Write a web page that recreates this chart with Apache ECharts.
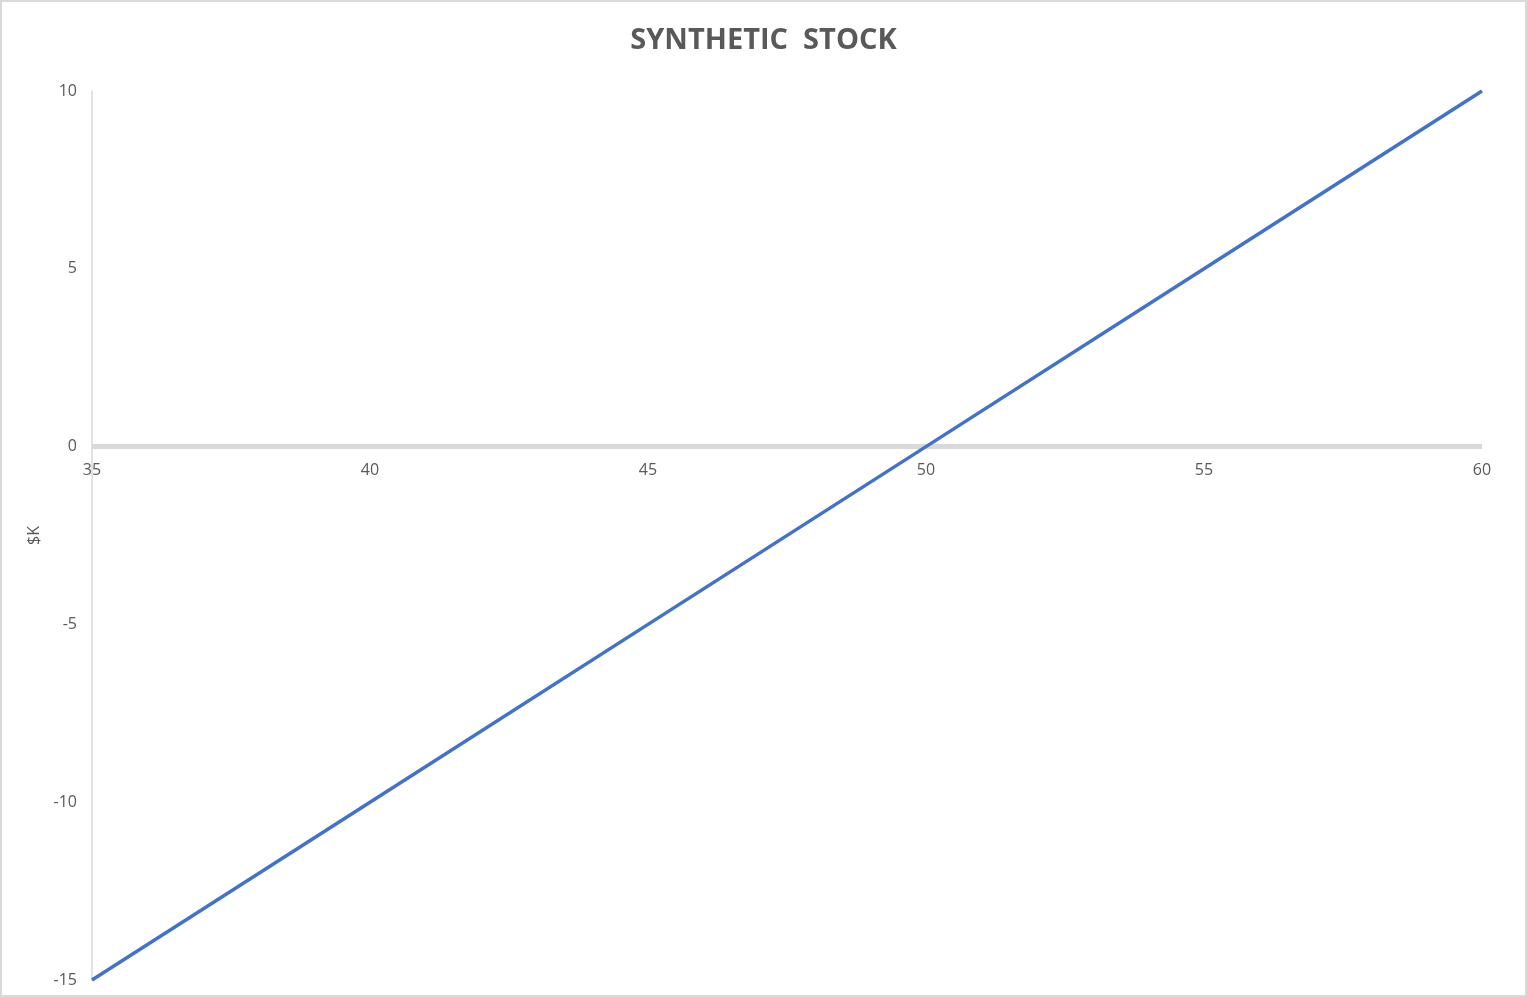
<!DOCTYPE html>
<html>
<head>
<meta charset="utf-8">
<title>Synthetic Stock</title>
<script src="https://cdn.jsdelivr.net/npm/echarts@6/dist/echarts.min.js"></script>
<style>
  html, body { margin: 0; padding: 0; background: #fff; }
  #main { width: 1527px; height: 997px; outline: 2px solid #d9d9d9; outline-offset: -2px; }
</style>
</head>
<body>
<div id="main"></div>
<script>
// 股价（横轴）与盈亏（$K）
const stockPrice = [35, 40, 45, 50, 55, 60];
const profit = [-15, -10, -5, 0, 5, 10];
const xTicks = { min: 35, max: 60, step: 5 };
const yTicks = { min: -15, max: 10, step: 5 };

const chart = echarts.init(document.getElementById('main'));

const points = stockPrice.map((x, i) => [x, profit[i]]);

// 绘图区
const gridTop = 91, gridBottom = 17;
const plotH = 997 - gridTop - gridBottom;
// 横轴放在 y=0 处：从底边往上移
const zeroOffset = -plotH * (0 - yTicks.min) / (yTicks.max - yTicks.min);

const option = {
  animation: false,
  textStyle: { fontFamily: 'Open Sans' },
  title: {
    text: 'SYNTHETIC  STOCK',
    left: 'center',
    top: 21,
    textStyle: {
      color: '#595959',
      fontSize: 29,
      fontWeight: 'bold',
      fontFamily: 'Open Sans'
    }
  },
  grid: {
    left: 92, right: 45, top: gridTop, bottom: gridBottom,
    containLabel: false,
    outerBoundsMode: 'none'
  },
  xAxis: {
    type: 'value',
    position: 'bottom',
    offset: zeroOffset,
    min: xTicks.min,
    max: xTicks.max,
    interval: xTicks.step,
    axisLine: {
      show: true,
      onZero: false,
      lineStyle: { color: '#d9d9d9', width: 5, cap: 'butt' }
    },
    axisTick: { show: false },
    splitLine: { show: false },
    axisLabel: { color: '#595959', fontSize: 16, margin: 16 }
  },
  yAxis: {
    type: 'value',
    min: yTicks.min,
    max: yTicks.max,
    interval: yTicks.step,
    name: '$K',
    nameLocation: 'middle',
    nameRotate: 90,
    nameGap: 48,
    nameTextStyle: { color: '#595959', fontSize: 16 },
    axisLine: {
      show: true,
      onZero: false,
      lineStyle: { color: '#d9d9d9', width: 1.5 }
    },
    axisTick: { show: false },
    splitLine: { show: false },
    axisLabel: { color: '#595959', fontSize: 16, margin: 15 }
  },
  series: [{
    type: 'line',
    data: points,
    showSymbol: false,
    lineStyle: { color: '#4472C4', width: 3.5 },
    itemStyle: { color: '#4472C4' }
  }]
};

chart.setOption(option);
</script>
</body>
</html>
